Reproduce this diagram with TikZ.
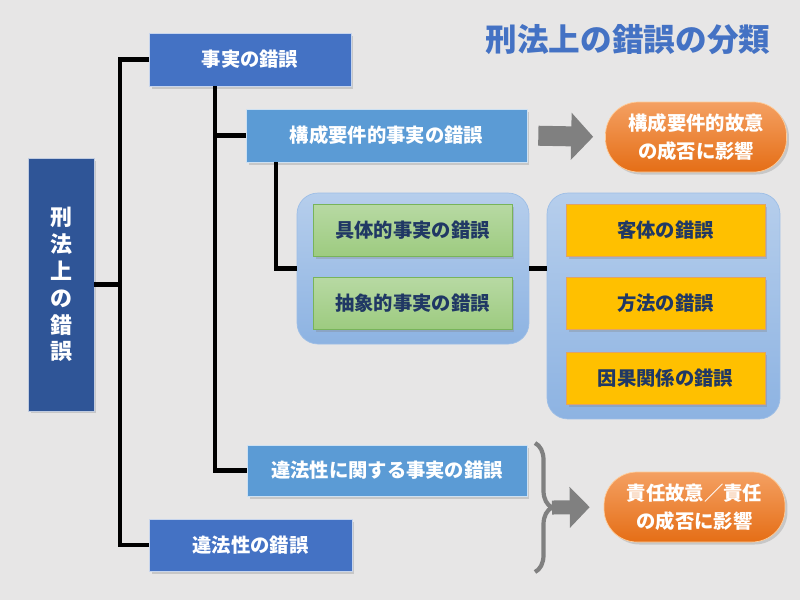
\documentclass[tikz,border=0pt]{standalone}
\usepackage{fontspec}
\setmainfont{Noto Sans CJK JP}
\usetikzlibrary{shadows,arrows.meta,decorations.pathreplacing}
\definecolor{fond}{HTML}{E7E6E6}
\definecolor{bleuf}{HTML}{2F5597}
\definecolor{bleum}{HTML}{4472C4}
\definecolor{bleuc}{HTML}{5B9BD5}
\definecolor{encre}{HTML}{203864}
\definecolor{verth}{HTML}{B7D9A3}
\definecolor{vertb}{HTML}{9DCB80}
\tikzset{
    boite/.style={draw=white!70!#1, fill=#1, minimum height=1.06cm, text=white,
      font=\fontsize{11}{13}\selectfont\bfseries, inner sep=0pt,
      drop shadow={shadow xshift=0.05cm, shadow yshift=-0.05cm, opacity=0.3}},
    vert/.style={draw={rgb,255:red,120;green,180;blue,90}, top color=verth, bottom color=vertb,
      minimum width=3.98cm, minimum height=1.04cm, text=encre,
      font=\fontsize{11}{13}\selectfont\bfseries, inner sep=0pt,
      drop shadow={shadow xshift=0.05cm, shadow yshift=-0.05cm, opacity=0.3}},
    jaune/.style={draw=orange!80!black!60, fill={rgb,255:red,255;green,192;blue,0},
      minimum width=3.98cm, minimum height=1.04cm, text=encre,
      font=\fontsize{11}{13}\selectfont\bfseries, inner sep=0pt,
      drop shadow={shadow xshift=0.05cm, shadow yshift=-0.05cm, opacity=0.3}},
    panneau/.style={draw={rgb,255:red,157;green,190;blue,230}, top color={rgb,255:red,182;green,206;blue,236},
      bottom color={rgb,255:red,141;green,179;blue,226}, rounded corners=0.42cm, inner sep=0pt},
    effet/.style={draw=orange!40, top color={rgb,255:red,244;green,160;blue,98}, bottom color={rgb,255:red,229;green,110;blue,22},
      rounded corners=0.66cm, minimum width=3.62cm, minimum height=1.4cm, text=white, align=center,
      font=\fontsize{11}{16}\selectfont\bfseries, inner sep=0pt,
      drop shadow={shadow xshift=0.05cm, shadow yshift=-0.05cm, opacity=0.3}},
    trait/.style={line width=2.3pt, black},
    fleche/.style={line width=0.4cm, gray, -{Triangle[length=0.44cm,width=0.92cm]}},
  }
\begin{document}
\begin{tikzpicture}[x=0.02cm,y=-0.02cm]
				  \fill[fond] (0,0) rectangle (800,600);
				  \useasboundingbox (0,0) rectangle (800,600);

				   %TITRE
				  \node[text=bleum, font=\fontsize{18}{20}\selectfont\bfseries] (titre) at (628,40) {刑法上の錯誤の分類};

				   %BOITES BLEUES
				  \node[boite=bleuf, minimum width=1.32cm, minimum height=5.06cm, align=center,
				        font=\fontsize{12.5}{15.3}\selectfont\bfseries] (keiho) at (61,284.5) {刑\\法\\上\\の\\錯\\誤};
				  \node[boite=bleum, minimum width=4.04cm] (jijitsu) at (250,59.5) {事実の錯誤};
				  \node[boite=bleuc, minimum width=5.62cm] (kosei) at (386.5,135.5) {構成要件的事実の錯誤};
				  \node[boite=bleuc, minimum width=5.6cm, minimum height=1.02cm] (ihoj) at (387,470.5) {違法性に関する事実の錯誤};
				  \node[boite=bleum, minimum width=4.06cm, minimum height=1.04cm] (iho) at (250.5,545) {違法性の錯誤};

				   %PANNEAUX
				  \node[panneau, minimum width=4.64cm, minimum height=3.02cm] (p1) at (413,268.5) {};
				  \node[panneau, minimum width=4.66cm, minimum height=4.52cm] (p2) at (663.5,306) {};
				  \node[vert] (gutai) at (412.5,230) {具体的事実の錯誤};
				  \node[vert] (chusho) at (412.5,303) {抽象的事実の錯誤};
				  \node[jaune] (kyaku) at (665.5,230) {客体の錯誤};
				  \node[jaune] (hoho) at (665.5,303) {方法の錯誤};
				  \node[jaune] (inga) at (665.5,378) {因果関係の錯誤};

				   %EFFETS
				  \node[effet] (koi) at (696,137) {構成要件的故意\\の成否に影響};
				  \node[effet] (sekinin) at (694.5,507) {責任故意／責任\\の成否に影響};

				   %TRAITS
				  \draw[trait] (jijitsu.west) -- ++(-29,0) coordinate (t1) |- (iho.west);
				  \draw[trait] (keiho.east) -- (keiho.east -| t1);
				  \coordinate (t2) at (215,86);
				  \draw[trait] (t2) |- (kosei.west);
				  \draw[trait] (t2) |- (ihoj.west);
				  \coordinate (t3) at (276,162);
				  \draw[trait] (t3) |- (p1.west);
				  \draw[trait] (p1.east) -- (p1.east -| p2.west);

				   %FLECHES
				  \draw[fleche, shorten <=0.22cm, shorten >=0.24cm] (kosei.east) -- (koi.west);
				  \coordinate (b1) at (535,443);
				  \coordinate (b2) at (535,572);
				  \draw[gray, line width=2.4pt, decorate, decoration={brace, amplitude=0.34cm}] (b1) -- (b2);
				  \coordinate (bp) at (552,507.5);
				  \draw[gray, line width=0.28cm, -{Triangle[length=0.4cm,width=0.8cm]}, shorten >=0.28cm] (bp) -- (sekinin.west);
				  \end{tikzpicture}
\end{document}
